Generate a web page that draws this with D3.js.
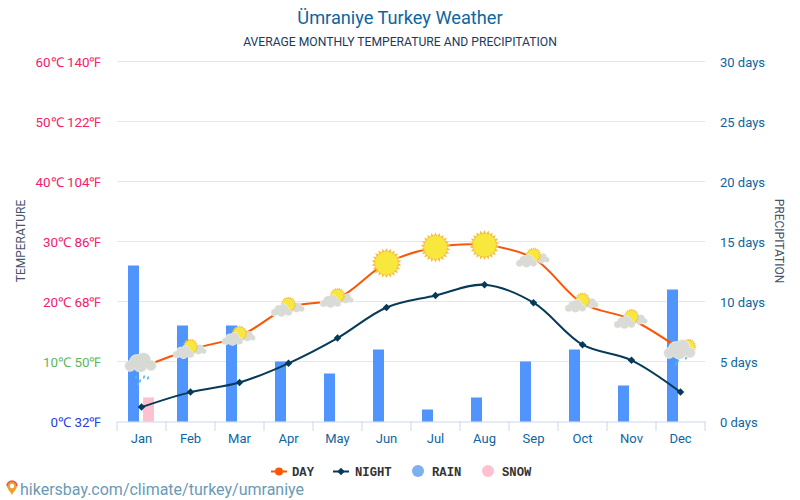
<!DOCTYPE html>
<html>
<head>
<meta charset="utf-8">
<script src="https://cdn.jsdelivr.net/npm/d3@7"></script>
<style>
body { margin: 0; background: #fff; }
text { font-family: Roboto, sans-serif; }
</style>
</head>
<body>
<script type="text/javascript">
var w = 800;
var h = 500;

// DATA
var months = ["Jan","Feb","Mar","Apr","May","Jun","Jul","Aug","Sep","Oct","Nov","Dec"];
var dayTemp = [9,12,14.2,19,20.5,26.4,29,29.4,27.2,19.7,17,12];
var nightTemp = [2.4,4.9,6.5,9.7,13.9,19,21,22.8,19.8,12.8,10.2,4.9];
var rainDays = [13,8,8,5,4,6,1,2,5,6,3,11];
var snowDays = [2,0,0,0,0,0,0,0,0,0,0,0];
var weather = ["rain","partly","partly","partly","partly","sun","sun","sun","partly","partly","partly","cloudy"];
var tempTicks = [0,10,20,30,40,50,60];
var tempLabels = ["0℃ 32℉","10℃ 50℉","20℃ 68℉","30℃ 86℉","40℃ 104℉","50℃ 122℉","60℃ 140℉"];
var tempColors = ["#1f3fe0","#5cb85c","#f5206a","#f5206a","#f5206a","#f5206a","#f5206a"];
var dayTicks = [0,5,10,15,20,25,30];
var legendNames = ["DAY","NIGHT","RAIN","SNOW"];

var x = d3.scaleBand().domain(months).range([117,705]);
var yTemp = d3.scaleLinear().domain([0,60]).range([421.5,61.5]);
var yDays = d3.scaleLinear().domain([0,30]).range([421.5,61.5]);

var svg = d3.select("body").append("svg").attr("width", w).attr("height", h);

// GRID
svg.append("g").selectAll("line").data(tempTicks.slice(1)).enter().append("line")
  .attr("x1",117).attr("x2",705).attr("y1",d => yTemp(d)).attr("y2",d => yTemp(d))
  .attr("stroke","#e6e6e6");

// TITLES
svg.append("text").attr("x",400).attr("y",24).attr("text-anchor","middle")
  .attr("font-size",18.2).attr("fill","#0e659f").text("Ümraniye Turkey Weather");
svg.append("text").attr("x",400).attr("y",46).attr("text-anchor","middle")
  .attr("font-size",12.15).attr("fill","#183a63").text("AVERAGE MONTHLY TEMPERATURE AND PRECIPITATION");
svg.append("text").attr("transform","translate(25,241) rotate(-90)").attr("text-anchor","middle")
  .attr("font-size",12).attr("fill","#46546e").text("TEMPERATURE");
svg.append("text").attr("transform","translate(775,241) rotate(90)").attr("text-anchor","middle")
  .attr("font-size",12).attr("fill","#46546e").text("PRECIPITATION");

// AXES
var xAxis = svg.append("g").attr("transform","translate(0,421.5)")
  .call(d3.axisBottom(x).tickSize(0).tickPadding(12));
xAxis.select(".domain").attr("stroke","#ccd6eb");
xAxis.selectAll("text").attr("font-size",13).attr("fill","#0e659f").style("font-family","Roboto");
svg.append("g").selectAll("line").data(d3.range(months.length+1)).enter().append("line")
  .attr("x1",d => 117 + d*x.step()).attr("x2",d => 117 + d*x.step())
  .attr("y1",421.5).attr("y2",431).attr("stroke","#ccd6eb");

var leftAxis = svg.append("g").attr("transform","translate(101.5,0.7)")
  .call(d3.axisLeft(yTemp).tickValues(tempTicks).tickSize(0).tickPadding(0)
    .tickFormat((d,i) => tempLabels[i]));
leftAxis.select(".domain").remove();
leftAxis.selectAll("text").attr("font-size",13.4).attr("fill",(d,i) => tempColors[i]).style("font-family","Roboto");

var rightAxis = svg.append("g").attr("transform","translate(720,0.7)")
  .call(d3.axisRight(yDays).tickValues(dayTicks).tickSize(0).tickPadding(0)
    .tickFormat(d => d + " days"));
rightAxis.select(".domain").remove();
rightAxis.selectAll("text").attr("font-size",13).attr("fill","#0e659f").style("font-family","Roboto");

// BARS
svg.append("g").selectAll("rect").data(rainDays).enter().append("rect")
  .attr("x",(d,i) => x(months[i]) + 11).attr("width",11)
  .attr("y",d => yDays(d)).attr("height",d => yDays(0)-yDays(d)).attr("fill","#5094fd");
svg.append("g").selectAll("rect").data(snowDays).enter().append("rect")
  .attr("x",(d,i) => x(months[i]) + 26).attr("width",11)
  .attr("y",d => yDays(d)).attr("height",d => yDays(0)-yDays(d)).attr("fill","#ffc0cf");

// LINES
var line = d3.line().x((d,i) => x(months[i]) + x.bandwidth()/2).y(d => yTemp(d)).curve(d3.curveCatmullRom.alpha(0.5));
svg.append("path").attr("d",line(dayTemp)).attr("fill","none").attr("stroke","#fb5607").attr("stroke-width",2);
svg.append("path").attr("d",line(nightTemp)).attr("fill","none").attr("stroke","#063a58").attr("stroke-width",2);

var marker = d3.symbol().type(d3.symbolSquare).size(28);
svg.append("g").selectAll("path").data(nightTemp).enter().append("path")
  .attr("d",marker)
  .attr("transform",(d,i) => "translate(" + (x(months[i]) + x.bandwidth()/2) + "," + yTemp(d) + ") rotate(45)")
  .attr("fill","#063a58");

// WEATHER ICONS
function sun(g, r) {
  var n = 22, pts = [];
  for (var i = 0; i < n*2; i++) pts.push([i*Math.PI/n, i%2 ? r*0.78 : r]);
  g.append("path").attr("d",d3.lineRadial().curve(d3.curveLinearClosed)(pts)).attr("fill","#f8c043");
  g.append("circle").attr("r",r*0.76).attr("fill","#f8e73c");
}
function cloud(g, cx, cy, s, fill) {
  var g2 = g.append("g").attr("transform","translate(" + cx + "," + cy + ") scale(" + s + ")");
  var parts = [[-10.5,1.5,5],[-4,-3,6.5],[3,-4.5,7],[10.5,1,5],[0,1,6.5]];
  // pale rim first, body on top
  g2.selectAll("circle.o").data(parts).enter().append("circle")
    .attr("cx",d => d[0]).attr("cy",d => d[1]).attr("r",d => d[2]+0.7).attr("fill","#f0f2ee");
  g2.selectAll("circle.i").data(parts).enter().append("circle")
    .attr("cx",d => d[0]).attr("cy",d => d[1]).attr("r",d => d[2]).attr("fill",fill);
}
function drops(g, dx, dy) {
  var pts = [[-6,8],[-2,12],[2,8],[-4,15],[6,9]];
  g.selectAll("line.d").data(pts).enter().append("line")
    .attr("x1",d => d[0]+dx).attr("y1",d => d[1]+dy).attr("x2",d => d[0]+dx-1).attr("y2",d => d[1]+dy+3)
    .attr("stroke","#55b4ea").attr("stroke-width",1.6);
}
var icons = svg.append("g").selectAll("g").data(dayTemp).enter().append("g")
  .attr("transform",(d,i) => "translate(" + (x(months[i]) + x.bandwidth()/2) + "," + yTemp(d) + ")");
icons.each(function(d,i) {
  var g = d3.select(this), k = weather[i];
  if (k == "sun") sun(g, 15);
  else if (k == "rain") {
    drops(g, 1, 0);
    cloud(g, -1, -3, 1, "#d6d9d4");
  } else if (k == "partly") {
    cloud(g.append("g"), 8, 1, 0.5, "#d8dbd6");
    sun(g.append("g").attr("transform","translate(0,-3)"), 8);
    cloud(g.append("g"), -7, 4, 0.66, "#d8dbd6");
  } else {
    sun(g.append("g").attr("transform","translate(8,-3)"), 8);
    drops(g, 0, -2);
    cloud(g, -1, 2, 1, "#d8dbd6");
  }
});

// LEGEND
var legend = svg.append("g");
var legendX = [292,355,432,502];
legendNames.forEach(function(name,i) {
  legend.append("text").attr("x",legendX[i]).attr("y",475.5).attr("font-size",12.2).attr("font-weight","bold")
    .style("font-family","'Liberation Mono'").attr("fill","#333").text(name);
});
legend.append("line").attr("x1",271).attr("x2",287).attr("y1",471.5).attr("y2",471.5).attr("stroke","#fb5607").attr("stroke-width",2);
legend.append("circle").attr("cx",279).attr("cy",471.5).attr("r",4).attr("fill","#fb5607");
legend.append("line").attr("x1",333).attr("x2",349).attr("y1",471.5).attr("y2",471.5).attr("stroke","#063a58").attr("stroke-width",2);
legend.append("path").attr("d",marker).attr("transform","translate(341,471.5) rotate(45)").attr("fill","#063a58");
legend.append("circle").attr("cx",418).attr("cy",471).attr("r",6).attr("fill","#7cb0ef");
legend.append("circle").attr("cx",488).attr("cy",471).attr("r",6).attr("fill","#ffc0cf");

// FOOTER
var pin = svg.append("g").attr("transform","translate(12,489)");
pin.append("path").attr("d","M0,6 C-2,2 -5,0 -5,-3 A5,5 0 1 1 5,-3 C5,0 2,2 0,6 Z").attr("fill","#f0a030");
pin.append("path").attr("d","M-5,-3 A5,5 0 0 1 5,-3").attr("fill","none").attr("stroke","#e8506a").attr("stroke-width",1.5);
pin.append("circle").attr("cy",-3).attr("r",2.2).attr("fill","#fff");
svg.append("text").attr("x",20).attr("y",495).attr("font-size",16).attr("fill","#6a9ab5").text("hikersbay.com/climate/turkey/umraniye");
</script>
</body>
</html>
